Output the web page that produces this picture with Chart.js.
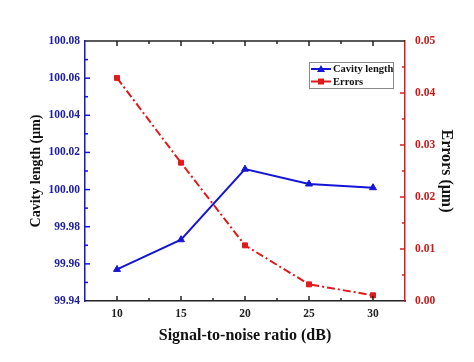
<!DOCTYPE html>
<html>
<head>
<meta charset="utf-8">
<script src="https://cdn.jsdelivr.net/npm/chart.js@4/dist/chart.umd.min.js"></script>
<style>
  html, body { margin: 0; padding: 0; background: #fff; }
  #wrap { width: 474px; height: 362px; }
</style>
</head>
<body>
<div id="wrap"><canvas id="c" width="474" height="362"></canvas></div>
<script>
const snr = [10, 15, 20, 25, 30];
const cavityLength = [99.957, 99.973, 100.011, 100.003, 100.001];
const errors = [0.0429, 0.0266, 0.0107, 0.0032, 0.0011];
const xTicks = [10, 15, 20, 25, 30];

const BLUE = '#1515d6';
const RED = '#e01a1a';
const serif = '"Liberation Serif", "Times New Roman", serif';

// inward major/minor ticks, plus the top frame line
const innerTicks = {
  id: 'innerTicks',
  afterDraw(chart) {
    const ctx = chart.ctx;
    const a = chart.chartArea;
    const x = chart.scales.x, yl = chart.scales.y, yr = chart.scales.y2;
    ctx.save();
    ctx.lineWidth = 1.5;
    // top frame
    ctx.strokeStyle = '#222';
    ctx.beginPath();
    ctx.moveTo(a.left, a.top); ctx.lineTo(a.right, a.top);
    ctx.stroke();
    // x ticks top and bottom
    for (let v = 7.5; v <= 32.5; v += 2.5) {
      const px = x.getPixelForValue(v);
      if (px <= a.left + 1 || px >= a.right - 1) continue;
      const len = (v % 5 === 0) ? 5 : 3;
      ctx.beginPath();
      ctx.moveTo(px, a.bottom); ctx.lineTo(px, a.bottom - len);
      ctx.moveTo(px, a.top); ctx.lineTo(px, a.top + len);
      ctx.stroke();
    }
    // left ticks
    ctx.strokeStyle = BLUE;
    for (let i = 0; i <= 14; i++) {
      const v = 99.94 + i * 0.01;
      const py = yl.getPixelForValue(v);
      if (py <= a.top + 1 || py >= a.bottom - 1) continue;
      const len = (i % 2 === 0) ? 5 : 3;
      ctx.beginPath();
      ctx.moveTo(a.left, py); ctx.lineTo(a.left + len, py);
      ctx.stroke();
    }
    // right ticks
    ctx.strokeStyle = RED;
    for (let i = 0; i <= 10; i++) {
      const v = i * 0.005;
      const py = yr.getPixelForValue(v);
      if (py <= a.top + 1 || py >= a.bottom - 1) continue;
      const len = (i % 2 === 0) ? 5 : 3;
      ctx.beginPath();
      ctx.moveTo(a.right, py); ctx.lineTo(a.right - len, py);
      ctx.stroke();
    }
    ctx.restore();
  }
};

new Chart(document.getElementById('c'), {
  type: 'line',
  data: {
    labels: snr,
    datasets: [{
      label: 'Cavity length',
      data: snr.map((s, i) => ({ x: s, y: cavityLength[i] })),
      yAxisID: 'y',
      borderColor: BLUE,
      backgroundColor: BLUE,
      borderWidth: 2,
      pointStyle: 'triangle',
      pointRadius: 4,
      pointBorderWidth: 1,
      tension: 0
    }, {
      label: 'Errors',
      data: snr.map((s, i) => ({ x: s, y: errors[i] })),
      yAxisID: 'y2',
      borderColor: RED,
      backgroundColor: RED,
      borderWidth: 2,
      borderDash: [8, 3, 2, 3],
      pointStyle: 'rect',
      pointRadius: 3.5,
      pointBorderWidth: 1,
      tension: 0
    }]
  },
  options: {
    responsive: false,
    animation: false,
    layout: { padding: { top: 41, right: 0, left: 0, bottom: 0 } },
    plugins: {
      legend: { display: false },
      tooltip: { enabled: false }
    },
    scales: {
      x: {
        type: 'linear',
        min: 7.5,
        max: 32.5,
        afterFit(s) { s.height = 61; },
        afterBuildTicks(s) { s.ticks = xTicks.map(v => ({ value: v })); },
        border: { display: true, color: '#222', width: 1.5 },
        grid: { display: false, drawTicks: false },
        ticks: {
          color: '#222',
          padding: 6,
          font: { family: serif, size: 11.5, weight: 'bold' }
        },
        title: {
          display: true,
          text: 'Signal-to-noise ratio (dB)',
          color: '#111',
          padding: { top: 0, bottom: 17 },
          font: { family: serif, size: 16, weight: 'bold' }
        }
      },
      y: {
        position: 'left',
        min: 99.94,
        max: 100.08,
        afterFit(s) { s.width = 85; },
        border: { display: true, color: BLUE, width: 1.5 },
        grid: { display: false, drawTicks: false },
        ticks: {
          stepSize: 0.02,
          color: '#2020a0',
          padding: 5,
          font: { family: serif, size: 11.5, weight: 'bold' },
          callback: v => v.toFixed(2)
        },
        title: {
          display: true,
          text: 'Cavity length (μm)',
          color: '#111',
          padding: { top: 28, bottom: 0 },
          font: { family: serif, size: 14, weight: 'bold' }
        }
      },
      y2: {
        position: 'right',
        min: 0,
        max: 0.05,
        afterFit(s) { s.width = 69; },
        border: { display: true, color: RED, width: 1.5 },
        grid: { display: false, drawTicks: false },
        ticks: {
          stepSize: 0.01,
          color: '#c81818',
          padding: 10,
          font: { family: serif, size: 11.5, weight: 'bold' },
          callback: v => v.toFixed(2)
        },
        title: {
          display: true,
          text: 'Errors (μm)',
          color: '#111',
          padding: { top: 18, bottom: 0 },
          font: { family: serif, size: 16, weight: 'bold' }
        }
      }
    }
  },
  plugins: [innerTicks, {
    // legend box drawn in the plot corner, reading from the datasets
    id: 'boxLegend',
    afterDraw(chart) {
      const ctx = chart.ctx;
      const bx = 309, by = 62, bw = 84, bh = 26;
      ctx.save();
      ctx.fillStyle = '#fff';
      ctx.fillRect(bx, by, bw, bh);
      ctx.strokeStyle = '#888';
      ctx.lineWidth = 1;
      ctx.strokeRect(bx + 0.5, by + 0.5, bw, bh);
      ctx.font = 'bold 10.5px ' + serif;
      ctx.textBaseline = 'middle';
      chart.data.datasets.forEach((ds, i) => {
        const yy = by + 7 + i * 12.5;
        ctx.strokeStyle = ds.borderColor;
        ctx.lineWidth = 2;
        ctx.beginPath();
        ctx.moveTo(bx + 2, yy); ctx.lineTo(bx + 22, yy);
        ctx.stroke();
        ctx.fillStyle = ds.backgroundColor;
        if (ds.pointStyle === 'triangle') {
          ctx.beginPath();
          ctx.moveTo(bx + 12, yy - 4); ctx.lineTo(bx + 16, yy + 3); ctx.lineTo(bx + 8, yy + 3);
          ctx.closePath(); ctx.fill();
        } else {
          ctx.fillRect(bx + 9, yy - 3, 6, 6);
        }
        ctx.fillStyle = '#111';
        ctx.fillText(ds.label, bx + 24, yy + 0.5);
      });
      ctx.restore();
    }
  }]
});
</script>
</body>
</html>
